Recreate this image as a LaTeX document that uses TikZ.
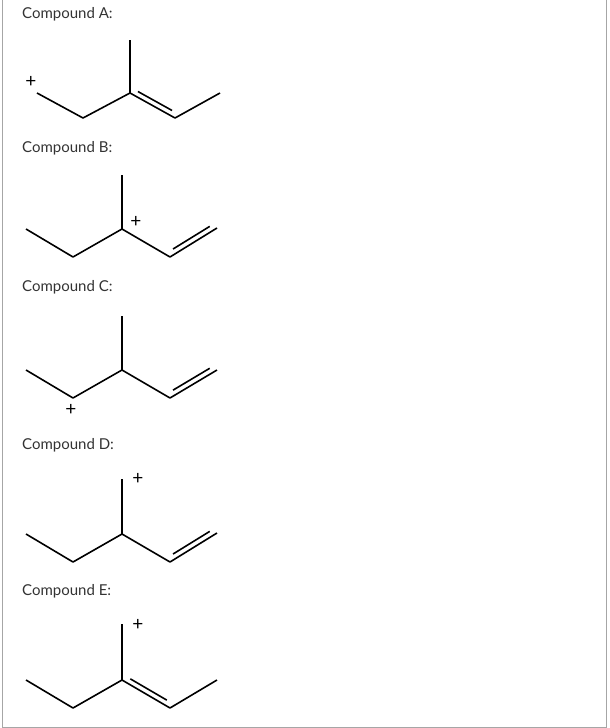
\documentclass[tikz,border=0pt]{standalone}
\usepackage{fontspec}
\setmainfont{Lato}
\usetikzlibrary{calc}
\begin{document}
\begin{tikzpicture}[x=1pt,y=-1pt,
  bond/.style={line width=1.6pt,line join=round},
  lbl/.style={anchor=west,inner sep=0pt,text=black!80,font=\fontsize{15}{17}\selectfont},
  chg/.style={inner sep=0pt,font=\fontsize{19}{19}\selectfont}]
\useasboundingbox (0,0) rectangle (610,728);
\draw[black!35,line width=1pt] (2,0) -- (2,727) -- (606,727) -- (606,0);
% A
\node[lbl] (la) at (22,14) {Compound A:};
\coordinate (a1) at (37,93); \coordinate (a2) at (83,118); \coordinate (a3) at (130,93);
\coordinate (a4) at (130,40); \coordinate (a5) at (175,118); \coordinate (a6) at (220,93);
\draw[bond] (a1)--(a2)--(a3)--(a5)--(a6); \draw[bond] (a3)--(a4);
\draw[bond] ($(a3)!0.12!(a5)+(2.5,-4.5)$) -- ($(a3)!0.88!(a5)+(2.5,-4.5)$);
\node[chg] (pa) at (31,82) {+};
% B
\node[lbl] (lb) at (22,148) {Compound B:};
\coordinate (b1) at (26,229); \coordinate (b2) at (73,257); \coordinate (b3) at (122,229);
\coordinate (b4) at (122,175); \coordinate (b5) at (170,257); \coordinate (b6) at (217,228);
\draw[bond] (b1)--(b2)--(b3)--(b5)--(b6); \draw[bond] (b3)--(b4);
\draw[bond] ($(b5)!0.12!(b6)+(-2.6,-4.5)$) -- ($(b5)!0.9!(b6)+(-2.6,-4.5)$);
\node[chg] (pb) at (136,222) {+};
% C
\node[lbl] (lc) at (22,287) {Compound C:};
\coordinate (c1) at (26,370); \coordinate (c2) at (73,398); \coordinate (c3) at (122,370);
\coordinate (c4) at (122,316); \coordinate (c5) at (170,398); \coordinate (c6) at (217,370);
\draw[bond] (c1)--(c2)--(c3)--(c5)--(c6); \draw[bond] (c3)--(c4);
\draw[bond] ($(c5)!0.12!(c6)+(-2.6,-4.5)$) -- ($(c5)!0.9!(c6)+(-2.6,-4.5)$);
\node[chg] (pc) at (71,410) {+};
% D
\node[lbl] (ld) at (22,445) {Compound D:};
\coordinate (d1) at (26,534); \coordinate (d2) at (73,562); \coordinate (d3) at (122,534);
\coordinate (d4) at (122,479); \coordinate (d5) at (170,562); \coordinate (d6) at (217,533);
\draw[bond] (d1)--(d2)--(d3)--(d5)--(d6); \draw[bond] (d3)--(d4);
\draw[bond] ($(d5)!0.12!(d6)+(-2.6,-4.5)$) -- ($(d5)!0.9!(d6)+(-2.6,-4.5)$);
\node[chg] (pd) at (138,479) {+};
% E
\node[lbl] (le) at (22,591) {Compound E:};
\coordinate (e1) at (26,680); \coordinate (e2) at (73,708); \coordinate (e3) at (122,680);
\coordinate (e4) at (122,624); \coordinate (e5) at (170,708); \coordinate (e6) at (217,680);
\draw[bond] (e1)--(e2)--(e3)--(e5)--(e6); \draw[bond] (e3)--(e4);
\draw[bond] ($(e3)!0.12!(e5)+(2.6,-4.5)$) -- ($(e3)!0.88!(e5)+(2.6,-4.5)$);
\node[chg] (pe) at (138,625) {+};
\end{tikzpicture}
\end{document}
